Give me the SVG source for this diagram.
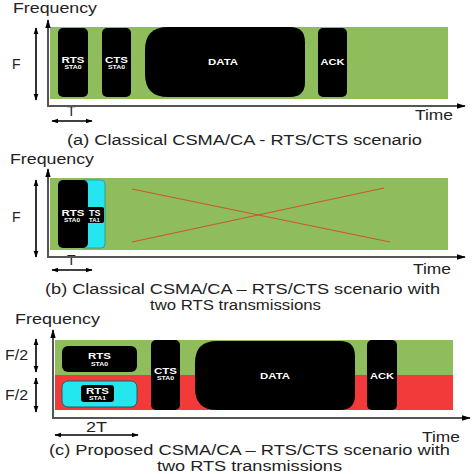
<svg xmlns="http://www.w3.org/2000/svg" width="474" height="474" viewBox="0 0 474 474">
<defs>
<marker id="ah" viewBox="0 0 10 10" refX="9" refY="5" markerWidth="7" markerHeight="7" orient="auto-start-reverse" markerUnits="userSpaceOnUse"><path d="M0,1.5 L10,5 L0,8.5 z" fill="#000"/></marker>
<marker id="ax" viewBox="0 0 10 10" refX="9" refY="5" markerWidth="9" markerHeight="9" orient="auto" markerUnits="userSpaceOnUse"><path d="M0,2 L10,5 L0,8 z" fill="#000"/></marker>
</defs>
<style>
text{font-family:"Liberation Sans","DejaVu Sans",Arial,sans-serif;fill:#222}
.lbl{font-size:14px}
.cap{font-size:14px}
.w{fill:#fff;font-weight:bold;text-anchor:middle}
.big{font-size:9px}
.sm{font-size:6px}
.blk{fill:#000}
.grn{fill:#8fbd5b}
.red{fill:#f23a3a}
.cy{fill:#24e6ef}
.axis{stroke:#555;stroke-width:2;fill:none}
.dim{stroke:#000;stroke-width:1.6;fill:none}
.x{stroke:#c8592e;stroke-width:1.2}
</style>
<rect width="474" height="474" fill="#fff"/>

<!-- Panel (a) -->
<g id="panel-a">
<rect class="grn" x="50" y="27" width="398" height="72"/>
<g id="a-rts"><rect class="blk" x="58" y="28" width="30" height="69" rx="5"/><text class="w big" x="73" y="63" textLength="23" lengthAdjust="spacingAndGlyphs">RTS</text><text class="w sm" x="73" y="69" textLength="17" lengthAdjust="spacingAndGlyphs">STA0</text></g>
<g id="a-cts"><rect class="blk" x="102" y="28" width="29" height="69" rx="5"/><text class="w big" x="116.5" y="63" textLength="23" lengthAdjust="spacingAndGlyphs">CTS</text><text class="w sm" x="116.5" y="69" textLength="17" lengthAdjust="spacingAndGlyphs">STA0</text></g>
<g id="a-data"><path class="blk" d="M168,27 H290 Q305,27 305,42 V82 Q305,97 290,97 H168 Q145,97 145,74 V50 Q145,27 168,27 z"/><text class="w big" x="223" y="65" textLength="30" lengthAdjust="spacingAndGlyphs">DATA</text></g>
<g id="a-ack"><rect class="blk" x="318" y="28" width="29" height="69" rx="5"/><text class="w big" x="332.5" y="65" textLength="24" lengthAdjust="spacingAndGlyphs">ACK</text></g>
<text class="lbl" x="13" y="13" textLength="84" lengthAdjust="spacingAndGlyphs">Frequency</text>
<text class="lbl" x="12" y="69">F</text>
<text class="lbl" x="415" y="120" textLength="38" lengthAdjust="spacingAndGlyphs">Time</text>
<text class="lbl" x="67" y="116" font-size="13">T</text>
<text class="cap" x="67" y="145" textLength="355" lengthAdjust="spacingAndGlyphs">(a) Classical CSMA/CA - RTS/CTS scenario</text>
</g>

<!-- Panel (b) -->
<g id="panel-b">
<rect class="grn" x="50" y="178" width="398" height="72"/>
<g id="b-rts1"><rect class="cy" x="80" y="180" width="25" height="68" rx="4" stroke="#1a7f86" stroke-width="0.6"/><rect class="blk" x="84" y="207" width="20" height="16" rx="2"/><text class="w big" x="89" y="216" style="text-anchor:start">TS</text><text class="w sm" x="89" y="222" style="text-anchor:start">TA1</text></g>
<g id="b-rts0"><rect class="blk" x="58" y="180" width="30" height="68" rx="5"/><text class="w big" x="73" y="216" textLength="23" lengthAdjust="spacingAndGlyphs">RTS</text><text class="w sm" x="72" y="222" textLength="16" lengthAdjust="spacingAndGlyphs">STA0</text></g>
<line class="x" x1="132" y1="189" x2="390" y2="242"/>
<line class="x" x1="132" y1="242" x2="384" y2="188"/>
<text class="lbl" x="10" y="164" textLength="84" lengthAdjust="spacingAndGlyphs">Frequency</text>
<text class="lbl" x="12" y="222">F</text>
<text class="lbl" x="413" y="274" textLength="38" lengthAdjust="spacingAndGlyphs">Time</text>
<text class="lbl" x="67" y="265" font-size="13">T</text>
<text class="cap" x="45" y="294" textLength="395" lengthAdjust="spacingAndGlyphs">(b) Classical CSMA/CA – RTS/CTS scenario with</text>
<text class="cap" x="150" y="310" textLength="171" lengthAdjust="spacingAndGlyphs">two RTS transmissions</text>
</g>

<!-- Panel (c) -->
<g id="panel-c">
<rect class="grn" x="55" y="340" width="398" height="35"/>
<rect class="red" x="55" y="375" width="398" height="35"/>
<g id="c-rts0"><rect class="blk" x="62" y="346" width="75" height="26" rx="6"/><text class="w big" x="99.5" y="359" textLength="23" lengthAdjust="spacingAndGlyphs">RTS</text><text class="w sm" x="99.5" y="366" textLength="17" lengthAdjust="spacingAndGlyphs">STA0</text></g>
<g id="c-rts1"><rect class="cy" x="62" y="381" width="75" height="26" rx="6" stroke="#1d5f66" stroke-width="1"/><rect class="blk" x="81" y="385" width="33" height="17" rx="3"/><text class="w big" x="97.5" y="394" textLength="23" lengthAdjust="spacingAndGlyphs">RTS</text><text class="w sm" x="97.5" y="400" textLength="17" lengthAdjust="spacingAndGlyphs">STA1</text></g>
<g id="c-cts"><rect class="blk" x="151" y="340" width="29" height="70" rx="5"/><text class="w big" x="165.5" y="374" textLength="23" lengthAdjust="spacingAndGlyphs">CTS</text><text class="w sm" x="165.5" y="380" textLength="17" lengthAdjust="spacingAndGlyphs">STA0</text></g>
<g id="c-data"><path class="blk" d="M217,341 H340 Q355,341 355,356 V395 Q355,410 340,410 H217 Q195,410 195,388 V363 Q195,341 217,341 z"/><text class="w big" x="275" y="379" textLength="30" lengthAdjust="spacingAndGlyphs">DATA</text></g>
<g id="c-ack"><rect class="blk" x="367" y="340" width="30" height="70" rx="5"/><text class="w big" x="382" y="379" textLength="24" lengthAdjust="spacingAndGlyphs">ACK</text></g>
<text class="lbl" x="15" y="324" textLength="85" lengthAdjust="spacingAndGlyphs">Frequency</text>
<text class="lbl" x="5" y="360" textLength="23" lengthAdjust="spacingAndGlyphs">F/2</text>
<text class="lbl" x="5" y="400" textLength="23" lengthAdjust="spacingAndGlyphs">F/2</text>
<text class="lbl" x="422" y="442" textLength="38" lengthAdjust="spacingAndGlyphs">Time</text>
<text class="lbl" x="86" y="432" font-size="12" textLength="21" lengthAdjust="spacingAndGlyphs">2T</text>
<text class="cap" x="49" y="455" font-size="13" textLength="401" lengthAdjust="spacingAndGlyphs">(c) Proposed CSMA/CA – RTS/CTS scenario with</text>
<text class="cap" x="157" y="471" font-size="12" textLength="185" lengthAdjust="spacingAndGlyphs">two RTS transmissions</text>
</g>

<!-- connectors: axes and dimension arrows -->
<g id="connectors">
<path class="axis" d="M48,106 V20" marker-end="url(#ax)"/>
<path class="axis" d="M47,106 H465" marker-end="url(#ax)"/>
<path class="dim" d="M36,28 V100" marker-start="url(#ah)" marker-end="url(#ah)"/>
<path class="dim" d="M52,121 H92" marker-start="url(#ah)" marker-end="url(#ah)"/>

<path class="axis" d="M48,257 V169" marker-end="url(#ax)"/>
<path class="axis" d="M47,257 H465" marker-end="url(#ax)"/>
<path class="dim" d="M36,180 V257" marker-start="url(#ah)" marker-end="url(#ah)"/>
<path class="dim" d="M52,270 H92" marker-start="url(#ah)" marker-end="url(#ah)"/>

<path class="axis" d="M53,418 V330" marker-end="url(#ax)"/>
<path class="axis" d="M52,418 H470" marker-end="url(#ax)"/>
<path class="dim" d="M36,339 V372" marker-start="url(#ah)" marker-end="url(#ah)"/>
<path class="dim" d="M36,378 V412" marker-start="url(#ah)" marker-end="url(#ah)"/>
<path class="dim" d="M55,435 H138" marker-start="url(#ah)" marker-end="url(#ah)"/>
</g>
</svg>
